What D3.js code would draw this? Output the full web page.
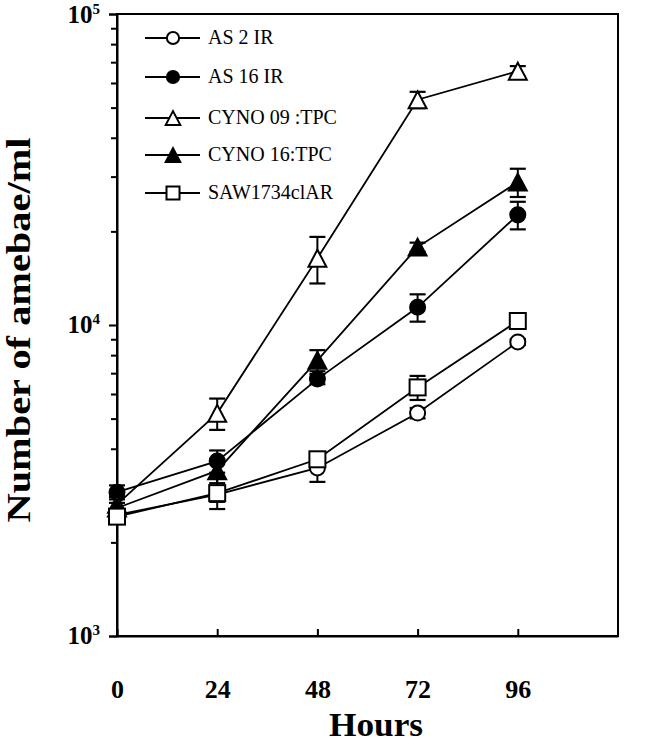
<!DOCTYPE html>
<html>
<head>
<meta charset="utf-8">
<script src="https://cdn.jsdelivr.net/npm/d3@7"></script>
<style>
  body { margin: 0; background: #fff; }
  svg { display: block; }
</style>
</head>
<body>
<svg id="chart" width="650" height="744"></svg>
<script>
// ---- data ----
const hours = [0, 24, 48, 72, 96];
const xTickLabels = ["0", "24", "48", "72", "96"];
const yMajorTicks = [1000, 10000, 100000];
const yTickExponents = ["3", "4", "5"];
const seriesNames = ["AS 2 IR", "AS 16 IR", "CYNO 09 :TPC", "CYNO 16:TPC", "SAW1734clAR"];
const seriesSymbols = ["circle-open", "circle-filled", "triangle-open", "triangle-filled", "square-open"];
const as2ir      = [2450, 2850, 3470, 5210, 8820];
const as2irErr   = [100, 150, 340, 200, 200];
const as16ir     = [2900, 3650, 6700, 11400, 22600];
const as16irErr  = [150, 300, 250, 1150, 2300];
const cyno09     = [2650, 5200, 16400, 53000, 65500];
const cyno09Err  = [150, 600, 2800, 3200, 2500];
const cyno16     = [2580, 3400, 7700, 17800, 28800];
const cyno16Err  = [100, 300, 600, 600, 3000];
const saw1734    = [2420, 2880, 3700, 6300, 10300];
const saw1734Err = [100, 320, 200, 560, 300];

const seriesValues = [as2ir, as16ir, cyno09, cyno16, saw1734];
const seriesErrors = [as2irErr, as16irErr, cyno09Err, cyno16Err, saw1734Err];

(function () {
const FONT = "'Liberation Serif', 'Times New Roman', serif";
// ---- layout ----
const svg = d3.select("#chart");
const pLeft = 117, pRight = 618, pTop = 14, pBottom = 636;
const x = d3.scaleLinear().domain([0, 120]).range([pLeft, pRight]);
const y = d3.scaleLog().domain([1000, 100000]).range([pBottom, pTop]);

// frame
svg.append("rect")
  .attr("x", pLeft).attr("y", pTop)
  .attr("width", pRight - pLeft).attr("height", pBottom - pTop)
  .attr("fill", "none").attr("stroke", "#000").attr("stroke-width", 2);

// y minor ticks
const minor = [];
[1000, 10000].forEach(d => { for (let k = 2; k <= 9; k++) minor.push(d * k); });
svg.append("g")
  .attr("transform", `translate(${pLeft},0)`)
  .call(d3.axisLeft(y).tickValues(minor).tickSize(6).tickFormat(""))
  .call(g => g.select(".domain").remove())
  .call(g => g.selectAll("line").attr("stroke-width", 2));

// y major ticks
svg.append("g")
  .attr("transform", `translate(${pLeft},0)`)
  .call(d3.axisLeft(y).tickValues(yMajorTicks).tickSize(8).tickFormat(""))
  .call(g => g.select(".domain").attr("stroke-width", 2))
  .call(g => g.selectAll("line").attr("stroke-width", 2));

yMajorTicks.forEach((v, i) => {
  const t = svg.append("text")
    .attr("x", 100).attr("y", Math.max(y(v) + 8, 23))
    .attr("text-anchor", "end")
    .attr("font-family", FONT)
    .attr("font-weight", "bold")
    .attr("font-size", 25);
  t.append("tspan").text("10");
  t.append("tspan").attr("font-size", 15).attr("dy", -9).text(yTickExponents[i]);
});

// x axis
svg.append("g")
  .attr("transform", `translate(0,${pBottom})`)
  .call(d3.axisBottom(x).tickValues(hours).tickSizeInner(-7).tickSizeOuter(0)
        .tickFormat((d, i) => xTickLabels[i]))
  .call(g => g.select(".domain").attr("stroke-width", 2))
  .call(g => g.selectAll("line").attr("stroke-width", 2))
  .call(g => g.selectAll("text")
      .attr("y", 44)
      .attr("font-family", FONT)
      .attr("font-weight", "bold")
      .attr("font-size", 26));

// axis titles
svg.append("text")
  .attr("x", 376).attr("y", 736)
  .attr("text-anchor", "middle")
  .attr("font-family", FONT)
  .attr("font-weight", "bold").attr("font-size", 34)
  .attr("textLength", 94).attr("lengthAdjust", "spacingAndGlyphs")
  .text("Hours");

svg.append("text")
  .attr("transform", "translate(30,330) rotate(-90)")
  .attr("text-anchor", "middle")
  .attr("font-family", FONT)
  .attr("font-weight", "bold").attr("font-size", 34)
  .attr("textLength", 385).attr("lengthAdjust", "spacingAndGlyphs")
  .text("Number of amebae/ml");

// ---- marker drawing ----
function drawMarker(g, sym, cx, cy, s) {
  const filled = sym.endsWith("filled");
  const fill = filled ? "#000" : "#fff";
  if (sym.startsWith("circle")) {
    g.append("circle").attr("cx", cx).attr("cy", cy).attr("r", s * 0.47)
      .attr("fill", fill).attr("stroke", "#000").attr("stroke-width", 2);
  } else if (sym.startsWith("square")) {
    const h = s * 0.5;
    g.append("rect").attr("x", cx - h).attr("y", cy - h).attr("width", 2 * h).attr("height", 2 * h)
      .attr("fill", fill).attr("stroke", "#000").attr("stroke-width", 2);
  } else {
    const w = s * 0.56, hh = s * 0.53;
    g.append("path")
      .attr("d", `M${cx},${cy - hh}L${cx + w},${cy + hh}L${cx - w},${cy + hh}Z`)
      .attr("fill", fill).attr("stroke", "#000").attr("stroke-width", 2)
      .attr("stroke-linejoin", "miter");
  }
}

const line = d3.line().x(d => x(d[0])).y(d => y(d[1]));

seriesValues.forEach((vals, si) => {
  const g = svg.append("g");
  const pts = hours.map((h, i) => [h, vals[i]]);
  g.append("path").attr("d", line(pts))
    .attr("fill", "none").attr("stroke", "#000").attr("stroke-width", 1.8);
  pts.forEach((p, i) => {
    const e = seriesErrors[si][i];
    const cx = x(p[0]);
    const y1 = y(p[1] + e), y0 = y(p[1] - e);
    g.append("line").attr("x1", cx).attr("x2", cx).attr("y1", y1).attr("y2", y0)
      .attr("stroke", "#000").attr("stroke-width", 2);
    [y1, y0].forEach(yy => g.append("line")
      .attr("x1", cx - 8).attr("x2", cx + 8).attr("y1", yy).attr("y2", yy)
      .attr("stroke", "#000").attr("stroke-width", 2.2));
  });
  pts.forEach(p => drawMarker(g, seriesSymbols[si], x(p[0]), y(p[1]), 16));
});

// ---- legend ----
const legendY = [38, 77, 118, 155, 193];
seriesNames.forEach((name, i) => {
  const g = svg.append("g");
  const ly = legendY[i];
  g.append("line").attr("x1", 145).attr("x2", 200).attr("y1", ly).attr("y2", ly)
    .attr("stroke", "#000").attr("stroke-width", 1.8);
  drawMarker(g, seriesSymbols[i], 173, ly, 13);
  g.append("text").attr("x", 208).attr("y", ly + 6)
    .attr("font-family", FONT)
    .attr("font-size", 20)
    .text(name);
});
})();
</script>
</body>
</html>
